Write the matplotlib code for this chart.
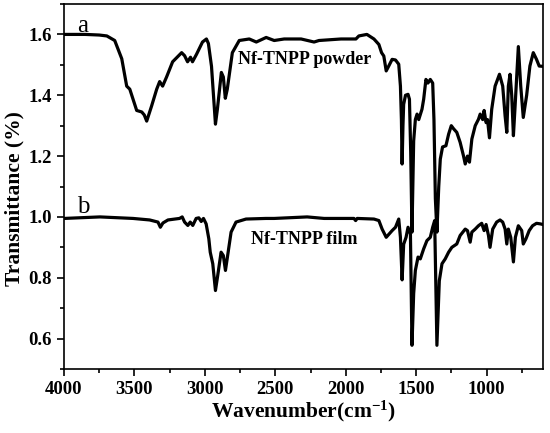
import matplotlib
matplotlib.use("Agg")
import matplotlib.pyplot as plt
from matplotlib.ticker import MultipleLocator

powder_wn = [4000, 3850, 3750, 3696, 3640, 3590, 3555, 3533, 3512, 3484, 3448, 3430, 3413, 3378, 3342,
             3321, 3300, 3272, 3229, 3165, 3144, 3123, 3102, 3088, 3059, 3017, 2989, 2975, 2953, 2925,
             2911, 2883, 2869, 2855, 2841, 2805, 2756, 2685, 2635, 2565, 2508, 2437, 2317, 2225, 2190,
             2034, 1928, 1907, 1850, 1800, 1765, 1746, 1730, 1713, 1695, 1671, 1647, 1624, 1612, 1605,
             1600, 1594, 1589, 1576, 1558, 1548, 1539, 1530, 1518, 1506, 1494, 1482, 1459, 1447, 1431,
             1417, 1400, 1383, 1374, 1364, 1353, 1340, 1329, 1313, 1289, 1270, 1251, 1235, 1212, 1188,
             1164, 1152, 1136, 1122, 1105, 1081, 1058, 1046, 1028, 1018, 1004, 994, 980, 964, 940,
             909, 886, 869, 857, 846, 834, 822, 810, 798, 775, 758, 740, 716, 693, 669,
             646, 627, 600]
powder_T = [1.600, 1.600, 1.598, 1.595, 1.58, 1.52, 1.43, 1.42, 1.39, 1.35, 1.345, 1.335, 1.315, 1.365, 1.42,
            1.445, 1.43, 1.46, 1.51, 1.54, 1.53, 1.51, 1.525, 1.51, 1.535, 1.575, 1.585, 1.57, 1.495, 1.305,
            1.355, 1.475, 1.46, 1.39, 1.42, 1.54, 1.58, 1.585, 1.575, 1.59, 1.58, 1.585, 1.585, 1.575, 1.58,
            1.585, 1.585, 1.595, 1.60, 1.585, 1.567, 1.54, 1.529, 1.48, 1.496, 1.518, 1.516, 1.502, 1.43, 1.32,
            1.174, 1.30, 1.37, 1.40, 1.403, 1.387, 1.213, 0.95, 1.25, 1.32, 1.338, 1.32, 1.354, 1.387, 1.452,
            1.44, 1.452, 1.44, 1.32, 1.06, 0.95, 1.10, 1.19, 1.23, 1.234, 1.272, 1.30, 1.29, 1.278, 1.245,
            1.20, 1.174, 1.20, 1.18, 1.256, 1.30, 1.321, 1.338, 1.32, 1.35, 1.31, 1.32, 1.26, 1.354, 1.43,
            1.469, 1.43, 1.332, 1.278, 1.43, 1.469, 1.40, 1.267, 1.365, 1.56, 1.43, 1.327, 1.40, 1.496, 1.54,
            1.518, 1.496, 1.495]

film_wn = [4000, 3745, 3510, 3392, 3333, 3316, 3298, 3262, 3180, 3161, 3144, 3121, 3104, 3086, 3062,
           3043, 3026, 3010, 2991, 2972, 2962, 2944, 2925, 2909, 2885, 2869, 2854, 2840, 2814, 2779,
           2708, 2567, 2508, 2274, 2154, 1942, 1930, 1919, 1800, 1765, 1742, 1713, 1671, 1647, 1624,
           1612, 1600, 1589, 1572, 1558, 1541, 1530, 1518, 1506, 1487, 1471, 1447, 1424, 1400, 1383,
           1369, 1353, 1336, 1317, 1294, 1270, 1247, 1212, 1188, 1176, 1152, 1136, 1117, 1105, 1081,
           1058, 1035, 1018, 1004, 987, 976, 957, 929, 905, 886, 869, 857, 846, 829, 810,
           796, 775, 751, 740, 721, 698, 674, 646, 618, 600]
film_T = [0.995, 1.0, 0.995, 0.99, 0.983, 0.966, 0.98, 0.99, 0.995, 1.0, 0.983, 0.972, 0.983, 0.972, 0.995,
          0.997, 0.985, 0.995, 0.977, 0.928, 0.884, 0.846, 0.758, 0.807, 0.884, 0.873, 0.824, 0.868, 0.95, 0.983,
          0.993, 0.995, 0.995, 1.0, 0.995, 0.995, 0.988, 0.995, 0.993, 0.988, 0.96, 0.933, 0.955, 0.966, 0.993,
          0.933, 0.793, 0.91, 0.933, 0.966, 0.944, 0.578, 0.748, 0.824, 0.868, 0.862, 0.895, 0.922, 0.933, 0.966,
          0.988, 0.578, 0.79, 0.846, 0.862, 0.884, 0.9, 0.911, 0.939, 0.946, 0.96, 0.955, 0.917, 0.95, 0.96,
          0.971, 0.979, 0.955, 0.975, 0.939, 0.9, 0.96, 0.983, 0.99, 0.983, 0.96, 0.911, 0.96, 0.933, 0.852,
          0.933, 0.971, 0.955, 0.911, 0.928, 0.955, 0.971, 0.979, 0.977, 0.975]

x_ticks = [4000, 3500, 3000, 2500, 2000, 1500, 1000]
y_ticks = [0.6, 0.8, 1.0, 1.2, 1.4, 1.6]

plt.rcParams['font.family'] = ['Liberation Serif', 'DejaVu Serif']
plt.rcParams['mathtext.fontset'] = 'custom'
plt.rcParams['mathtext.rm'] = 'Liberation Serif:bold'
plt.rcParams['mathtext.bf'] = 'Liberation Serif:bold'
plt.rcParams['mathtext.default'] = 'rm'

fig = plt.figure(figsize=(5.5, 4.33), dpi=100)
ax = fig.add_axes([64/550, 1 - 369/433, (543 - 64)/550, (369 - 4)/433])

ax.plot(powder_wn, powder_T, color='black', lw=2.3, solid_joinstyle='round')
ax.plot(film_wn, film_T, color='black', lw=2.3, solid_joinstyle='round')

ax.set_xlim(4000, 600)
ax.set_ylim(0.5, 1.7)
ax.set_xticks(x_ticks)
ax.set_yticks(y_ticks)
ax.xaxis.set_minor_locator(MultipleLocator(250))
ax.yaxis.set_minor_locator(MultipleLocator(0.1))
ax.tick_params(which='both', direction='out', top=False, right=False, width=1.2)
ax.tick_params(which='major', length=5, labelsize=13.5)
ax.tick_params(which='minor', length=3)
for lab in ax.get_xticklabels() + ax.get_yticklabels():
    lab.set_fontweight('bold')
for s in ax.spines.values():
    s.set_linewidth(1.2)

ax.set_xlabel('Wavenumber(cm$^{-1}$)', fontsize=15.5, fontweight='bold', labelpad=1)
ax.set_ylabel('Transmittance (%)', fontsize=15.5, fontweight='bold', labelpad=3)
ax.yaxis.label.set_y(0.468)

ax.text(3866, 1.607, 'a', fontsize=18, ha='center', va='baseline')
ax.text(3866, 1.013, 'b', fontsize=18, ha='center', va='baseline')
ax.text(2763, 1.502, 'Nf-TNPP powder', fontsize=13, fontweight='bold', ha='left', va='baseline')
ax.text(2671, 0.911, 'Nf-TNPP film', fontsize=13, fontweight='bold', ha='left', va='baseline')

fig.savefig('out.png', dpi=100)
